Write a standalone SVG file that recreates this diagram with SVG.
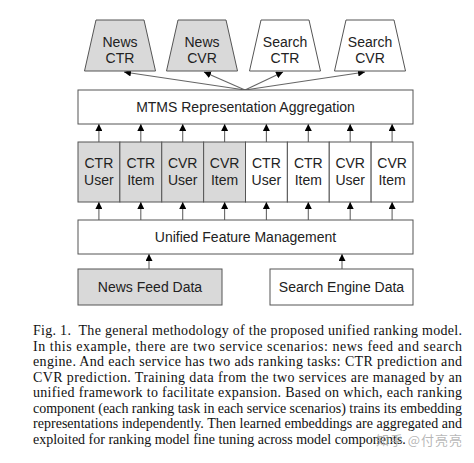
<svg xmlns="http://www.w3.org/2000/svg" width="474" height="463" viewBox="0 0 474 463">
<style>
.box{stroke:#555;stroke-width:1;}
.g{fill:#d9d9d9;}
.w{fill:#fff;}
.t{font-family:"Liberation Sans",Arial,sans-serif;font-size:14px;fill:#222;text-anchor:middle;}
.cap{font-family:"Liberation Serif","Times New Roman",serif;font-size:14px;fill:#111;}
.ln{stroke:#666;stroke-width:1.1;fill:none;marker-end:url(#ah);}
</style>
<defs>
<marker id="ah" viewBox="0 0 10 10" refX="10" refY="5" markerWidth="7" markerHeight="7" markerUnits="userSpaceOnUse" orient="auto">
<path d="M0,0 L10,5 L0,10 z" fill="#000"/>
</marker>
</defs>
<rect width="474" height="463" fill="#fff"/>

<g id="connectors">
<line class="ln" x1="245" y1="90" x2="124" y2="72"/>
<line class="ln" x1="245" y1="90" x2="204" y2="72"/>
<line class="ln" x1="245" y1="90" x2="283" y2="72"/>
<line class="ln" x1="245" y1="90" x2="365" y2="72"/>
<line class="ln" x1="98.9" y1="142" x2="98.9" y2="124"/>
<line class="ln" x1="140.8" y1="142" x2="140.8" y2="124"/>
<line class="ln" x1="182.7" y1="142" x2="182.7" y2="124"/>
<line class="ln" x1="224.6" y1="142" x2="224.6" y2="124"/>
<line class="ln" x1="266.4" y1="142" x2="266.4" y2="124"/>
<line class="ln" x1="308.3" y1="142" x2="308.3" y2="124"/>
<line class="ln" x1="350.2" y1="142" x2="350.2" y2="124"/>
<line class="ln" x1="392.1" y1="142" x2="392.1" y2="124"/>
<line class="ln" x1="98.9" y1="220" x2="98.9" y2="202"/>
<line class="ln" x1="140.8" y1="220" x2="140.8" y2="202"/>
<line class="ln" x1="182.7" y1="220" x2="182.7" y2="202"/>
<line class="ln" x1="224.6" y1="220" x2="224.6" y2="202"/>
<line class="ln" x1="266.4" y1="220" x2="266.4" y2="202"/>
<line class="ln" x1="308.3" y1="220" x2="308.3" y2="202"/>
<line class="ln" x1="350.2" y1="220" x2="350.2" y2="202"/>
<line class="ln" x1="392.1" y1="220" x2="392.1" y2="202"/>
<line class="ln" x1="149" y1="269" x2="149" y2="254"/>
<line class="ln" x1="342" y1="269" x2="342" y2="254"/>
</g>

<g id="news-ctr">
<polygon class="box g" points="96,20 144,20 155.5,71 84.5,71"/>
<text class="t" x="120" y="47">News</text>
<text class="t" x="120" y="63">CTR</text>
</g>
<g id="news-cvr">
<polygon class="box g" points="178,20 226,20 237.5,71 166.5,71"/>
<text class="t" x="202" y="47">News</text>
<text class="t" x="202" y="63">CVR</text>
</g>
<g id="search-ctr">
<polygon class="box w" points="261,20 309,20 320.5,71 249.5,71"/>
<text class="t" x="285" y="47">Search</text>
<text class="t" x="285" y="63">CTR</text>
</g>
<g id="search-cvr">
<polygon class="box w" points="346,20 394,20 405.5,71 334.5,71"/>
<text class="t" x="370" y="47">Search</text>
<text class="t" x="370" y="63">CVR</text>
</g>

<g id="mtms">
<rect class="box w" x="78" y="90" width="335" height="34"/>
<text class="t" x="245.5" y="112">MTMS Representation Aggregation</text>
</g>

<g id="news-ctr-user">
<rect class="box g" x="78" y="142" width="41.875" height="60"/>
<text class="t" x="98.9" y="168">CTR</text><text class="t" x="98.9" y="185">User</text>
</g>
<g id="news-ctr-item">
<rect class="box g" x="119.875" y="142" width="41.875" height="60"/>
<text class="t" x="140.8" y="168">CTR</text><text class="t" x="140.8" y="185">Item</text>
</g>
<g id="news-cvr-user">
<rect class="box g" x="161.75" y="142" width="41.875" height="60"/>
<text class="t" x="182.7" y="168">CVR</text><text class="t" x="182.7" y="185">User</text>
</g>
<g id="news-cvr-item">
<rect class="box g" x="203.625" y="142" width="41.875" height="60"/>
<text class="t" x="224.6" y="168">CVR</text><text class="t" x="224.6" y="185">Item</text>
</g>
<g id="search-ctr-user">
<rect class="box w" x="245.5" y="142" width="41.875" height="60"/>
<text class="t" x="266.4" y="168">CTR</text><text class="t" x="266.4" y="185">User</text>
</g>
<g id="search-ctr-item">
<rect class="box w" x="287.375" y="142" width="41.875" height="60"/>
<text class="t" x="308.3" y="168">CTR</text><text class="t" x="308.3" y="185">Item</text>
</g>
<g id="search-cvr-user">
<rect class="box w" x="329.25" y="142" width="41.875" height="60"/>
<text class="t" x="350.2" y="168">CVR</text><text class="t" x="350.2" y="185">User</text>
</g>
<g id="search-cvr-item">
<rect class="box w" x="371.125" y="142" width="41.875" height="60"/>
<text class="t" x="392.1" y="168">CVR</text><text class="t" x="392.1" y="185">Item</text>
</g>

<g id="unified">
<rect class="box w" x="78" y="220" width="335" height="34"/>
<text class="t" x="245.5" y="242">Unified Feature Management</text>
</g>
<g id="news-feed-data">
<rect class="box g" x="78" y="269" width="144" height="36"/>
<text class="t" x="150" y="292">News Feed Data</text>
</g>
<g id="search-engine-data">
<rect class="box w" x="270" y="269" width="143" height="36"/>
<text class="t" x="341.5" y="292">Search Engine Data</text>
</g>

<g id="caption">
<text class="cap" x="33" y="335" textLength="429" lengthAdjust="spacing">Fig. 1.&#160; The general methodology of the proposed unified ranking model.</text>
<text class="cap" x="33" y="350.5" textLength="429" lengthAdjust="spacing">In this example, there are two service scenarios: news feed and search</text>
<text class="cap" x="33" y="366" textLength="429" lengthAdjust="spacing">engine. And each service has two ads ranking tasks: CTR prediction and</text>
<text class="cap" x="33" y="381.5" textLength="429" lengthAdjust="spacing">CVR prediction. Training data from the two services are managed by an</text>
<text class="cap" x="33" y="397" textLength="429" lengthAdjust="spacing">unified framework to facilitate expansion. Based on which, each ranking</text>
<text class="cap" x="33" y="412.5" textLength="429" lengthAdjust="spacing">component (each ranking task in each service scenarios) trains its embedding</text>
<text class="cap" x="33" y="428" textLength="429" lengthAdjust="spacing">representations independently. Then learned embeddings are aggregated and</text>
<text class="cap" x="33" y="443.5">exploited for ranking model fine tuning across model components.</text>
<text x="376" y="444.5" font-family="'Noto Sans CJK SC',sans-serif" font-size="13" fill="#aaa" fill-opacity="0.85" textLength="86" lengthAdjust="spacing">知乎 @付亮亮</text>
</g>
</svg>
